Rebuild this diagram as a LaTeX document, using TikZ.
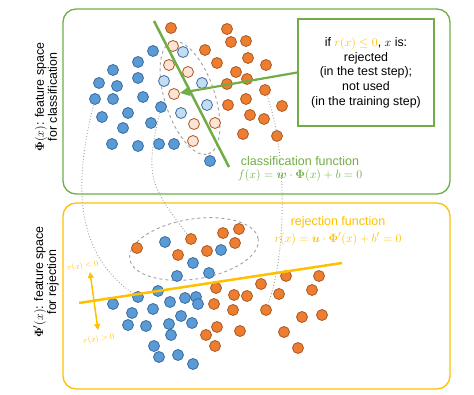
\documentclass[tikz,border=0pt]{standalone}
\usepackage{amsmath}
\usepackage{fontspec}
\setmainfont{Liberation Sans}
\usetikzlibrary{arrows.meta, shapes.geometric, positioning}

\definecolor{clsgreen}{RGB}{112,173,71}
\definecolor{rejyellow}{RGB}{255,192,0}
\definecolor{dotblue}{RGB}{91,155,213}
\definecolor{dotblueline}{RGB}{56,108,160}
\definecolor{dotorange}{RGB}{237,125,49}
\definecolor{dotorangeline}{RGB}{170,88,32}
\definecolor{paleblue}{RGB}{196,220,242}
\definecolor{paleorange}{RGB}{252,228,212}
\definecolor{zonegrey}{RGB}{160,160,160}

\begin{document}
\begin{tikzpicture}
  [x=1pt,y=1pt,
   panel/.style={rectangle,rounded corners=13pt,line width=1.3pt,
                 inner sep=0pt,minimum width=387pt},
   bdot/.style={circle,draw=dotblueline,fill=dotblue,line width=0.8pt,
                inner sep=0pt,minimum size=11pt},
   odot/.style={bdot,draw=dotorangeline,fill=dotorange},
   lbdot/.style={bdot,fill=paleblue},
   lodot/.style={odot,fill=paleorange},
   zone/.style={ellipse,draw=zonegrey,dashed,line width=0.9pt,inner sep=0pt},
   link/.style={draw=zonegrey,dotted,line width=0.9pt},
   sidelabel/.style={rotate=90,align=center,font=\fontsize{12.4}{13}\selectfont},
   fnlabel/.style={inner sep=0pt,font=\fontsize{12.5}{14}\selectfont},
   signlabel/.style={inner sep=0pt,text=rejyellow,rotate=9,
                     font=\fontsize{8}{9}\selectfont}]
  \useasboundingbox (0,0) rectangle (474,-395);

  % the two feature spaces
  \node[panel,draw=clsgreen,minimum height=185pt] (clsbox) at (256.5,-101.5) {};
  \node[panel,draw=rejyellow,minimum height=186pt] (rejbox) at (256.5,-296) {};
  \node[sidelabel] (clslabel) at (46,-97)
    {$\boldsymbol{\Phi}(x)$: feature space\\for classification};
  \node[sidelabel] (rejlabel) at (46,-282)
    {$\boldsymbol{\Phi}'(x)$: feature space\\for rejection};

  % ambiguous samples
  \node[zone,minimum width=118pt,minimum height=50pt,rotate=-72] (mixzone) at (190,-98) {};
  \node[zone,minimum width=130pt,minimum height=60pt,rotate=9] (rejzone) at (194,-249) {};

  % samples in Phi(x)
  \foreach \p [count=\i] in {(153,-51),(138,-62),(113,-70),(99,-83),(117,-86),
      (138,-78),(95,-99),(113,-99),(143,-97),(161,-107),(128,-113),(102,-117),
      (151,-123),(123,-128),(112,-144),(138,-146),(159,-144),(174,-144),(210,-161)}
    \node[bdot] (cb\i) at \p {};
  \foreach \p [count=\i] in {(171,-28),(227,-29),(231,-42),(246,-41),(205,-50),
      (248,-58),(217,-63),(266,-65),(236,-72),(247,-79),(227,-84),(265,-90),
      (246,-99),(228,-105),(282,-106),(250,-115),(264,-119),(243,-134),(277,-136)}
    \node[odot] (co\i) at \p {};
  \foreach \p [count=\i] in {(183,-52),(164,-81),(202,-83),(207,-105),(181,-113)}
    \node[lbdot] (cl\i) at \p {};
  \foreach \p [count=\i] in {(173,-46),(169,-65),(188,-72),(174,-94),(194,-124),
      (215,-123),(193,-141)}
    \node[lodot] (cp\i) at \p {};

  % samples in Phi'(x)
  \foreach \p [count=\i] in {(165,-242),(221,-250),(193,-263),(177,-276),(209,-273),
      (158,-291),(138,-297),(113,-304),(170,-302),(185,-298),(196,-297),(198,-304),
      (153,-309),(132,-313),(181,-316),(128,-325),(146,-326),(169,-324),(192,-323),
      (171,-335),(154,-346),(159,-357),(178,-355),(193,-364)}
    \node[bdot] (rb\i) at \p {};
  \foreach \p [count=\i] in {(137,-248),(191,-239),(223,-233),(239,-229),(235,-243),
      (178,-255),(207,-251),(216,-288),(234,-295),(247,-296),(261,-284),(286,-276),
      (319,-276),(312,-290),(279,-294),(214,-304),(233,-310),(266,-310),(302,-317),
      (322,-315),(217,-327),(240,-331),(206,-335),(284,-332),(215,-346),(298,-348)}
    \node[odot] (ro\i) at \p {};

  % mapping between the spaces
  \draw[link] (cb7) to[out=256,in=145] (rb7);
  \draw[link] (cb10) to[out=257,in=128,looseness=1.3] (ro2);
  \draw[link] (co12) to[out=-70,in=70,looseness=0.7] (ro18);

  % decision boundaries
  \coordinate (clsA) at (154,-21);
  \coordinate (clsB) at (229,-167);
  \draw[clsgreen,line width=2.5pt] (clsA) -- (clsB);
  \coordinate (rejA) at (79,-303);
  \coordinate (rejB) at (342,-263);
  \draw[rejyellow,line width=2.5pt] (rejA) -- (rejB);

  \node[fnlabel,text=clsgreen] (clsname) at (300,-161) {classification function};
  \node[fnlabel,text=clsgreen,below=4pt of clsname]
    {$f(x)=\boldsymbol{w}\cdot\boldsymbol{\Phi}(x)+b=0$};
  \node[fnlabel,text=rejyellow] (rejname) at (338,-222) {rejection function};
  \node[fnlabel,text=rejyellow,below=4pt of rejname]
    {$r(x)=\boldsymbol{u}\cdot\boldsymbol{\Phi}'(x)+b'=0$};

  % sign of r(x)
  \coordinate (negend) at (90,-272);
  \coordinate (posend) at (98,-330);
  \draw[rejyellow,line width=1.5pt,
        {Triangle[length=6pt,width=6pt]}-{Triangle[length=6pt,width=6pt]}]
    (negend) -- (posend);
  \node[signlabel] (neglabel) at (83,-266) {$r(x)<0$};
  \node[signlabel] (poslabel) at (99,-339) {$r(x)>0$};

  % note on rejected samples
  \node[draw=clsgreen,line width=1.5pt,fill=white,minimum width=136pt,
        minimum height=107pt,align=center,inner sep=2pt,
        font=\fontsize{12.4}{14.7}\selectfont] (note) at (366,-72.5)
    {if \textcolor{rejyellow}{$r(x)\le 0$}, $x$ is:\\rejected\\(in the test step);\\not used\\(in the training step)};
  \draw[clsgreen,line width=2.2pt,-{Triangle[length=10pt,width=9pt]}]
    (note.west) -- (cp4);
\end{tikzpicture}
\end{document}
